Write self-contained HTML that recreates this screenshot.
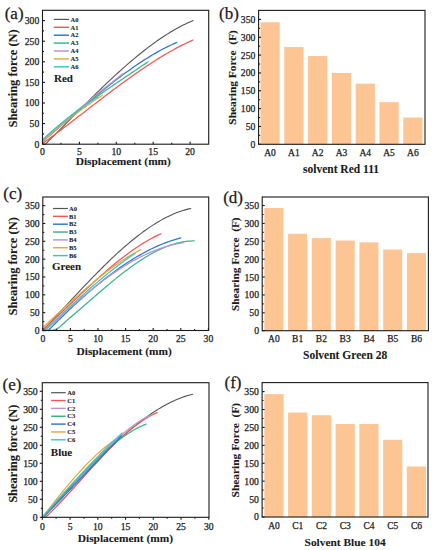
<!DOCTYPE html>
<html><head><meta charset="utf-8"><style>
html,body{margin:0;padding:0;background:#fff;width:433px;height:550px;overflow:hidden}
svg{display:block}
text{font-family:'Liberation Serif', serif;fill:#1a1a1a;stroke:#1a1a1a;stroke-width:0.25px}
text[font-weight=bold]{stroke-width:0.08px}
</style></head><body>
<svg width="433" height="550" viewBox="0 0 433 550">
<rect width="433" height="550" fill="#fff"/>
<path d="M45.45,144.19 L47.32,142.34 L49.19,140.47 L51.06,138.6 L52.93,136.73 L54.79,134.85 L56.66,132.98 L58.53,131.09 L60.4,129.21 L62.27,127.33 L64.14,125.44 L66,123.55 L67.87,121.67 L69.74,119.78 L71.61,117.9 L73.48,116.01 L75.35,114.13 L77.21,112.25 L79.08,110.37 L80.95,108.5 L82.82,106.63 L84.69,104.77 L86.56,102.91 L88.42,101.05 L90.29,99.2 L92.16,97.36 L94.03,95.52 L95.9,93.69 L97.77,91.87 L99.63,90.06 L101.5,88.25 L103.37,86.46 L105.24,84.67 L107.11,82.9 L108.98,81.13 L110.84,79.38 L112.71,77.64 L114.58,75.91 L116.45,74.19 L118.32,72.48 L120.19,70.79 L122.05,69.12 L123.92,67.45 L125.79,65.81 L127.66,64.18 L129.53,62.56 L131.4,60.96 L133.26,59.38 L135.13,57.81 L137,56.27 L138.87,54.74 L140.74,53.23 L142.61,51.74 L144.47,50.27 L146.34,48.82 L148.21,47.39 L150.08,45.98 L151.95,44.59 L153.82,43.23 L155.68,41.89 L157.55,40.57 L159.42,39.28 L161.29,38.01 L163.16,36.76 L165.03,35.54 L166.9,34.35 L168.76,33.18 L170.63,32.04 L172.5,30.92 L174.37,29.84 L176.24,28.78 L178.11,27.75 L179.97,26.75 L181.84,25.78 L183.71,24.83 L185.58,23.92 L187.45,23.04 L189.32,22.2 L191.18,21.38 L193.05,20.6" fill="none" stroke="#555555" stroke-width="1.1" stroke-linejoin="round" stroke-linecap="round"/>
<path d="M42.5,143.58 L44.41,142.2 L46.31,140.82 L48.22,139.43 L50.12,138.03 L52.03,136.62 L53.93,135.2 L55.84,133.78 L57.75,132.35 L59.65,130.92 L61.56,129.48 L63.46,128.04 L65.37,126.59 L67.27,125.14 L69.18,123.69 L71.09,122.23 L72.99,120.77 L74.9,119.31 L76.8,117.84 L78.71,116.37 L80.61,114.9 L82.52,113.43 L84.43,111.96 L86.33,110.49 L88.24,109.02 L90.14,107.55 L92.05,106.09 L93.95,104.62 L95.86,103.15 L97.77,101.69 L99.67,100.23 L101.58,98.77 L103.48,97.32 L105.39,95.87 L107.29,94.42 L109.2,92.98 L111.11,91.54 L113.01,90.11 L114.92,88.69 L116.82,87.27 L118.73,85.85 L120.63,84.45 L122.54,83.05 L124.45,81.66 L126.35,80.27 L128.26,78.9 L130.16,77.53 L132.07,76.18 L133.97,74.83 L135.88,73.49 L137.79,72.17 L139.69,70.85 L141.6,69.54 L143.5,68.25 L145.41,66.97 L147.31,65.7 L149.22,64.44 L151.13,63.2 L153.03,61.97 L154.94,60.76 L156.84,59.55 L158.75,58.37 L160.65,57.2 L162.56,56.04 L164.47,54.9 L166.37,53.78 L168.28,52.67 L170.18,51.58 L172.09,50.51 L173.99,49.45 L175.9,48.41 L177.81,47.39 L179.71,46.4 L181.62,45.42 L183.52,44.45 L185.43,43.51 L187.33,42.6 L189.24,41.7 L191.15,40.82 L193.05,39.96" fill="none" stroke="#f55454" stroke-width="1.25" stroke-linejoin="round" stroke-linecap="round"/>
<path d="M42.5,141.72 L44.2,140.27 L45.9,138.82 L47.6,137.36 L49.3,135.89 L51,134.43 L52.7,132.96 L54.4,131.5 L56.1,130.03 L57.8,128.56 L59.5,127.09 L61.2,125.61 L62.9,124.14 L64.6,122.67 L66.3,121.2 L68,119.73 L69.7,118.26 L71.4,116.8 L73.1,115.33 L74.8,113.87 L76.5,112.41 L78.2,110.95 L79.9,109.49 L81.6,108.04 L83.3,106.6 L85.01,105.15 L86.71,103.72 L88.41,102.28 L90.11,100.85 L91.81,99.43 L93.51,98.01 L95.21,96.6 L96.91,95.2 L98.61,93.8 L100.31,92.41 L102.01,91.03 L103.71,89.65 L105.41,88.28 L107.11,86.92 L108.81,85.57 L110.51,84.23 L112.21,82.9 L113.91,81.58 L115.61,80.27 L117.31,78.96 L119.01,77.67 L120.71,76.39 L122.41,75.12 L124.11,73.87 L125.81,72.62 L127.51,71.39 L129.21,70.17 L130.91,68.96 L132.61,67.76 L134.31,66.58 L136.01,65.42 L137.71,64.26 L139.41,63.13 L141.11,62 L142.81,60.89 L144.51,59.8 L146.21,58.73 L147.91,57.67 L149.61,56.62 L151.31,55.59 L153.01,54.58 L154.71,53.59 L156.41,52.62 L158.11,51.66 L159.81,50.72 L161.51,49.8 L163.21,48.9 L164.91,48.02 L166.61,47.16 L168.31,46.32 L170.02,45.5 L171.72,44.7 L173.42,43.92 L175.12,43.17 L176.82,42.43" fill="none" stroke="#2f78c8" stroke-width="1.25" stroke-linejoin="round" stroke-linecap="round"/>
<path d="M42.5,140.9 L43.84,139.64 L45.17,138.39 L46.51,137.16 L47.84,135.93 L49.18,134.71 L50.52,133.5 L51.85,132.31 L53.19,131.12 L54.52,129.94 L55.86,128.77 L57.19,127.62 L58.53,126.47 L59.87,125.33 L61.2,124.2 L62.54,123.07 L63.87,121.96 L65.21,120.85 L66.55,119.76 L67.88,118.67 L69.22,117.59 L70.55,116.51 L71.89,115.45 L73.23,114.39 L74.56,113.34 L75.9,112.3 L77.23,111.26 L78.57,110.23 L79.9,109.21 L81.24,108.19 L82.58,107.18 L83.91,106.17 L85.25,105.17 L86.58,104.18 L87.92,103.19 L89.26,102.21 L90.59,101.24 L91.93,100.26 L93.26,99.3 L94.6,98.33 L95.93,97.38 L97.27,96.42 L98.61,95.47 L99.94,94.53 L101.28,93.59 L102.61,92.65 L103.95,91.72 L105.29,90.79 L106.62,89.86 L107.96,88.94 L109.29,88.01 L110.63,87.1 L111.97,86.18 L113.3,85.27 L114.64,84.36 L115.97,83.45 L117.31,82.54 L118.64,81.63 L119.98,80.73 L121.32,79.83 L122.65,78.92 L123.99,78.02 L125.32,77.12 L126.66,76.23 L128,75.33 L129.33,74.43 L130.67,73.53 L132,72.63 L133.34,71.74 L134.68,70.84 L136.01,69.94 L137.35,69.04 L138.68,68.14 L140.02,67.24 L141.35,66.33 L142.69,65.43 L144.03,64.53 L145.36,63.62 L146.7,62.71 L148.03,61.8" fill="none" stroke="#38b684" stroke-width="1.25" stroke-linejoin="round" stroke-linecap="round"/>
<path d="M42.5,140.9 L43.52,139.99 L44.54,139.07 L45.55,138.16 L46.57,137.25 L47.59,136.34 L48.61,135.43 L49.63,134.52 L50.65,133.62 L51.66,132.71 L52.68,131.81 L53.7,130.91 L54.72,130.01 L55.74,129.12 L56.76,128.22 L57.77,127.33 L58.79,126.44 L59.81,125.55 L60.83,124.66 L61.85,123.77 L62.87,122.89 L63.88,122.01 L64.9,121.13 L65.92,120.25 L66.94,119.37 L67.96,118.49 L68.97,117.62 L69.99,116.75 L71.01,115.88 L72.03,115.01 L73.05,114.14 L74.07,113.27 L75.08,112.41 L76.1,111.55 L77.12,110.69 L78.14,109.83 L79.16,108.97 L80.18,108.12 L81.19,107.26 L82.21,106.41 L83.23,105.56 L84.25,104.71 L85.27,103.87 L86.28,103.02 L87.3,102.18 L88.32,101.34 L89.34,100.5 L90.36,99.66 L91.38,98.82 L92.39,97.99 L93.41,97.16 L94.43,96.32 L95.45,95.49 L96.47,94.67 L97.49,93.84 L98.5,93.02 L99.52,92.19 L100.54,91.37 L101.56,90.55 L102.58,89.74 L103.6,88.92 L104.61,88.11 L105.63,87.29 L106.65,86.48 L107.67,85.67 L108.69,84.87 L109.7,84.06 L110.72,83.26 L111.74,82.46 L112.76,81.66 L113.78,80.86 L114.8,80.06 L115.81,79.27 L116.83,78.47 L117.85,77.68 L118.87,76.89 L119.89,76.1 L120.91,75.32 L121.92,74.53 L122.94,73.75" fill="none" stroke="#b993d4" stroke-width="1.25" stroke-linejoin="round" stroke-linecap="round"/>
<path d="M42.5,141.52 L43.26,140.84 L44.01,140.17 L44.77,139.5 L45.53,138.82 L46.28,138.16 L47.04,137.49 L47.8,136.83 L48.55,136.17 L49.31,135.51 L50.07,134.85 L50.82,134.19 L51.58,133.54 L52.34,132.89 L53.09,132.25 L53.85,131.6 L54.61,130.96 L55.36,130.32 L56.12,129.68 L56.88,129.04 L57.63,128.41 L58.39,127.78 L59.15,127.15 L59.9,126.52 L60.66,125.9 L61.42,125.28 L62.17,124.66 L62.93,124.04 L63.69,123.43 L64.44,122.81 L65.2,122.2 L65.96,121.6 L66.71,120.99 L67.47,120.39 L68.23,119.79 L68.98,119.19 L69.74,118.59 L70.5,118 L71.25,117.41 L72.01,116.82 L72.77,116.23 L73.52,115.65 L74.28,115.07 L75.04,114.49 L75.79,113.91 L76.55,113.33 L77.31,112.76 L78.06,112.19 L78.82,111.62 L79.58,111.06 L80.33,110.49 L81.09,109.93 L81.85,109.37 L82.6,108.82 L83.36,108.26 L84.12,107.71 L84.87,107.16 L85.63,106.62 L86.39,106.07 L87.14,105.53 L87.9,104.99 L88.66,104.45 L89.41,103.92 L90.17,103.38 L90.93,102.85 L91.68,102.32 L92.44,101.8 L93.2,101.27 L93.95,100.75 L94.71,100.23 L95.47,99.72 L96.22,99.2 L96.98,98.69 L97.74,98.18 L98.49,97.67 L99.25,97.17 L100.01,96.67 L100.76,96.17 L101.52,95.67 L102.28,95.17" fill="none" stroke="#e3aa3c" stroke-width="1.25" stroke-linejoin="round" stroke-linecap="round"/>
<path d="M42.5,139.67 L43.2,139.02 L43.9,138.37 L44.6,137.73 L45.3,137.09 L46,136.45 L46.7,135.82 L47.4,135.19 L48.11,134.56 L48.81,133.93 L49.51,133.31 L50.21,132.69 L50.91,132.07 L51.61,131.45 L52.31,130.84 L53.01,130.23 L53.71,129.62 L54.41,129.02 L55.11,128.41 L55.81,127.82 L56.51,127.22 L57.21,126.62 L57.91,126.03 L58.61,125.44 L59.32,124.86 L60.02,124.28 L60.72,123.7 L61.42,123.12 L62.12,122.54 L62.82,121.97 L63.52,121.4 L64.22,120.83 L64.92,120.27 L65.62,119.71 L66.32,119.15 L67.02,118.59 L67.72,118.04 L68.42,117.49 L69.12,116.94 L69.82,116.4 L70.53,115.86 L71.23,115.32 L71.93,114.78 L72.63,114.24 L73.33,113.71 L74.03,113.18 L74.73,112.66 L75.43,112.13 L76.13,111.61 L76.83,111.1 L77.53,110.58 L78.23,110.07 L78.93,109.56 L79.63,109.05 L80.33,108.55 L81.03,108.05 L81.74,107.55 L82.44,107.05 L83.14,106.56 L83.84,106.07 L84.54,105.58 L85.24,105.09 L85.94,104.61 L86.64,104.13 L87.34,103.65 L88.04,103.18 L88.74,102.71 L89.44,102.24 L90.14,101.77 L90.84,101.31 L91.54,100.85 L92.24,100.39 L92.95,99.93 L93.65,99.48 L94.35,99.03 L95.05,98.58 L95.75,98.14 L96.45,97.7 L97.15,97.26 L97.85,96.82" fill="none" stroke="#36c6c8" stroke-width="1.25" stroke-linejoin="round" stroke-linecap="round"/>
<rect x="42.5" y="10.3" width="166.2" height="133.9" fill="none" stroke="#1a1a1a" stroke-width="1.1"/>
<line x1="42.5" y1="144.2" x2="45" y2="144.2" stroke="#1a1a1a" stroke-width="1.1"/>
<text x="39.3" y="147.69" font-size="9.7" text-anchor="end" >0</text>
<line x1="42.5" y1="133.9" x2="44" y2="133.9" stroke="#1a1a1a" stroke-width="1.1"/>
<line x1="42.5" y1="123.6" x2="45" y2="123.6" stroke="#1a1a1a" stroke-width="1.1"/>
<text x="39.3" y="127.09" font-size="9.7" text-anchor="end" >50</text>
<line x1="42.5" y1="113.3" x2="44" y2="113.3" stroke="#1a1a1a" stroke-width="1.1"/>
<line x1="42.5" y1="103" x2="45" y2="103" stroke="#1a1a1a" stroke-width="1.1"/>
<text x="39.3" y="106.49" font-size="9.7" text-anchor="end" >100</text>
<line x1="42.5" y1="92.7" x2="44" y2="92.7" stroke="#1a1a1a" stroke-width="1.1"/>
<line x1="42.5" y1="82.4" x2="45" y2="82.4" stroke="#1a1a1a" stroke-width="1.1"/>
<text x="39.3" y="85.89" font-size="9.7" text-anchor="end" >150</text>
<line x1="42.5" y1="72.1" x2="44" y2="72.1" stroke="#1a1a1a" stroke-width="1.1"/>
<line x1="42.5" y1="61.8" x2="45" y2="61.8" stroke="#1a1a1a" stroke-width="1.1"/>
<text x="39.3" y="65.29" font-size="9.7" text-anchor="end" >200</text>
<line x1="42.5" y1="51.5" x2="44" y2="51.5" stroke="#1a1a1a" stroke-width="1.1"/>
<line x1="42.5" y1="41.2" x2="45" y2="41.2" stroke="#1a1a1a" stroke-width="1.1"/>
<text x="39.3" y="44.69" font-size="9.7" text-anchor="end" >250</text>
<line x1="42.5" y1="30.9" x2="44" y2="30.9" stroke="#1a1a1a" stroke-width="1.1"/>
<line x1="42.5" y1="20.6" x2="45" y2="20.6" stroke="#1a1a1a" stroke-width="1.1"/>
<text x="39.3" y="24.09" font-size="9.7" text-anchor="end" >300</text>
<line x1="42.5" y1="144.2" x2="42.5" y2="141.7" stroke="#1a1a1a" stroke-width="1.1"/>
<text x="42.5" y="155.1" font-size="9.7" text-anchor="middle" >0</text>
<line x1="60.95" y1="144.2" x2="60.95" y2="142.7" stroke="#1a1a1a" stroke-width="1.1"/>
<line x1="79.4" y1="144.2" x2="79.4" y2="141.7" stroke="#1a1a1a" stroke-width="1.1"/>
<text x="79.4" y="155.1" font-size="9.7" text-anchor="middle" >5</text>
<line x1="97.85" y1="144.2" x2="97.85" y2="142.7" stroke="#1a1a1a" stroke-width="1.1"/>
<line x1="116.3" y1="144.2" x2="116.3" y2="141.7" stroke="#1a1a1a" stroke-width="1.1"/>
<text x="116.3" y="155.1" font-size="9.7" text-anchor="middle" >10</text>
<line x1="134.75" y1="144.2" x2="134.75" y2="142.7" stroke="#1a1a1a" stroke-width="1.1"/>
<line x1="153.2" y1="144.2" x2="153.2" y2="141.7" stroke="#1a1a1a" stroke-width="1.1"/>
<text x="153.2" y="155.1" font-size="9.7" text-anchor="middle" >15</text>
<line x1="171.65" y1="144.2" x2="171.65" y2="142.7" stroke="#1a1a1a" stroke-width="1.1"/>
<line x1="190.1" y1="144.2" x2="190.1" y2="141.7" stroke="#1a1a1a" stroke-width="1.1"/>
<text x="190.1" y="155.1" font-size="9.7" text-anchor="middle" >20</text>
<line x1="53.8" y1="19.4" x2="69" y2="19.4" stroke="#555555" stroke-width="1.2"/>
<text x="70.5" y="21.61" font-size="6.5" text-anchor="start" font-weight="bold" >A0</text>
<line x1="53.8" y1="27.3" x2="69" y2="27.3" stroke="#f55454" stroke-width="1.45"/>
<text x="70.5" y="29.51" font-size="6.5" text-anchor="start" font-weight="bold" >A1</text>
<line x1="53.8" y1="35.2" x2="69" y2="35.2" stroke="#2f78c8" stroke-width="1.45"/>
<text x="70.5" y="37.41" font-size="6.5" text-anchor="start" font-weight="bold" >A2</text>
<line x1="53.8" y1="43.1" x2="69" y2="43.1" stroke="#38b684" stroke-width="1.45"/>
<text x="70.5" y="45.31" font-size="6.5" text-anchor="start" font-weight="bold" >A3</text>
<line x1="53.8" y1="51" x2="69" y2="51" stroke="#b993d4" stroke-width="1.45"/>
<text x="70.5" y="53.21" font-size="6.5" text-anchor="start" font-weight="bold" >A4</text>
<line x1="53.8" y1="58.9" x2="69" y2="58.9" stroke="#e3aa3c" stroke-width="1.45"/>
<text x="70.5" y="61.11" font-size="6.5" text-anchor="start" font-weight="bold" >A5</text>
<line x1="53.8" y1="66.8" x2="69" y2="66.8" stroke="#36c6c8" stroke-width="1.45"/>
<text x="70.5" y="69.01" font-size="6.5" text-anchor="start" font-weight="bold" >A6</text>
<text x="54" y="81.7" font-size="11" text-anchor="start" font-weight="bold" >Red</text>
<text x="0" y="0" font-size="12.5" font-weight="bold" text-anchor="middle" transform="translate(17.2,78.4) rotate(-90)">Shearing force (N)</text>
<text x="123.3" y="165" font-size="11.4" text-anchor="middle" font-weight="bold" >Displacement (mm)</text>
<text x="4.7" y="19" font-size="17" text-anchor="start" >(a)</text>
<rect x="260.45" y="22.27" width="19.2" height="122.03" fill="#fec594"/>
<rect x="284.25" y="47.07" width="19.2" height="97.23" fill="#fec594"/>
<rect x="308.05" y="55.99" width="19.2" height="88.31" fill="#fec594"/>
<rect x="331.85" y="72.94" width="19.2" height="71.36" fill="#fec594"/>
<rect x="355.65" y="83.64" width="19.2" height="60.66" fill="#fec594"/>
<rect x="379.45" y="102.2" width="19.2" height="42.1" fill="#fec594"/>
<rect x="403.25" y="117.54" width="19.2" height="26.76" fill="#fec594"/>
<text x="270.05" y="156" font-size="9.5" text-anchor="middle" >A0</text>
<text x="293.85" y="156" font-size="9.5" text-anchor="middle" >A1</text>
<text x="317.65" y="156" font-size="9.5" text-anchor="middle" >A2</text>
<text x="341.45" y="156" font-size="9.5" text-anchor="middle" >A3</text>
<text x="365.25" y="156" font-size="9.5" text-anchor="middle" >A4</text>
<text x="389.05" y="156" font-size="9.5" text-anchor="middle" >A5</text>
<text x="412.85" y="156" font-size="9.5" text-anchor="middle" >A6</text>
<rect x="258.6" y="10.4" width="166.4" height="133.9" fill="none" stroke="#1a1a1a" stroke-width="1.1"/>
<line x1="258.6" y1="144.3" x2="261.1" y2="144.3" stroke="#1a1a1a" stroke-width="1.1"/>
<text x="255.4" y="147.79" font-size="9.7" text-anchor="end" >0</text>
<line x1="258.6" y1="135.38" x2="260.1" y2="135.38" stroke="#1a1a1a" stroke-width="1.1"/>
<line x1="258.6" y1="126.46" x2="261.1" y2="126.46" stroke="#1a1a1a" stroke-width="1.1"/>
<text x="255.4" y="129.95" font-size="9.7" text-anchor="end" >50</text>
<line x1="258.6" y1="117.54" x2="260.1" y2="117.54" stroke="#1a1a1a" stroke-width="1.1"/>
<line x1="258.6" y1="108.62" x2="261.1" y2="108.62" stroke="#1a1a1a" stroke-width="1.1"/>
<text x="255.4" y="112.11" font-size="9.7" text-anchor="end" >100</text>
<line x1="258.6" y1="99.7" x2="260.1" y2="99.7" stroke="#1a1a1a" stroke-width="1.1"/>
<line x1="258.6" y1="90.78" x2="261.1" y2="90.78" stroke="#1a1a1a" stroke-width="1.1"/>
<text x="255.4" y="94.27" font-size="9.7" text-anchor="end" >150</text>
<line x1="258.6" y1="81.86" x2="260.1" y2="81.86" stroke="#1a1a1a" stroke-width="1.1"/>
<line x1="258.6" y1="72.94" x2="261.1" y2="72.94" stroke="#1a1a1a" stroke-width="1.1"/>
<text x="255.4" y="76.43" font-size="9.7" text-anchor="end" >200</text>
<line x1="258.6" y1="64.02" x2="260.1" y2="64.02" stroke="#1a1a1a" stroke-width="1.1"/>
<line x1="258.6" y1="55.1" x2="261.1" y2="55.1" stroke="#1a1a1a" stroke-width="1.1"/>
<text x="255.4" y="58.59" font-size="9.7" text-anchor="end" >250</text>
<line x1="258.6" y1="46.18" x2="260.1" y2="46.18" stroke="#1a1a1a" stroke-width="1.1"/>
<line x1="258.6" y1="37.26" x2="261.1" y2="37.26" stroke="#1a1a1a" stroke-width="1.1"/>
<text x="255.4" y="40.75" font-size="9.7" text-anchor="end" >300</text>
<line x1="258.6" y1="28.34" x2="260.1" y2="28.34" stroke="#1a1a1a" stroke-width="1.1"/>
<line x1="258.6" y1="19.42" x2="261.1" y2="19.42" stroke="#1a1a1a" stroke-width="1.1"/>
<text x="255.4" y="22.91" font-size="9.7" text-anchor="end" >350</text>
<text x="0" y="0" font-size="11.4" font-weight="bold" text-anchor="middle" transform="translate(235.9,77.5) rotate(-90)">Shearing Force&#160;&#160;(F)</text>
<text x="341" y="172.5" font-size="11.5" text-anchor="middle" font-weight="bold" >solvent Red 111</text>
<text x="219" y="19.2" font-size="17" text-anchor="start" >(b)</text>
<path d="M42.8,330.51 L44.67,328.53 L46.55,326.54 L48.42,324.54 L50.29,322.54 L52.16,320.53 L54.04,318.52 L55.91,316.51 L57.78,314.49 L59.65,312.48 L61.53,310.46 L63.4,308.44 L65.27,306.43 L67.14,304.41 L69.02,302.4 L70.89,300.38 L72.76,298.38 L74.63,296.37 L76.51,294.37 L78.38,292.38 L80.25,290.39 L82.12,288.41 L84,286.44 L85.87,284.47 L87.74,282.52 L89.62,280.57 L91.49,278.63 L93.36,276.7 L95.23,274.79 L97.11,272.89 L98.98,271 L100.85,269.12 L102.72,267.26 L104.6,265.41 L106.47,263.58 L108.34,261.77 L110.21,259.97 L112.09,258.19 L113.96,256.43 L115.83,254.68 L117.7,252.96 L119.58,251.26 L121.45,249.58 L123.32,247.92 L125.19,246.28 L127.07,244.67 L128.94,243.08 L130.81,241.51 L132.69,239.97 L134.56,238.45 L136.43,236.97 L138.3,235.51 L140.18,234.07 L142.05,232.67 L143.92,231.3 L145.79,229.95 L147.67,228.64 L149.54,227.36 L151.41,226.11 L153.28,224.89 L155.16,223.7 L157.03,222.55 L158.9,221.44 L160.77,220.36 L162.65,219.32 L164.52,218.31 L166.39,217.34 L168.26,216.41 L170.14,215.52 L172.01,214.67 L173.88,213.86 L175.76,213.09 L177.63,212.36 L179.5,211.67 L181.37,211.03 L183.25,210.43 L185.12,209.87 L186.99,209.36 L188.86,208.9 L190.74,208.48" fill="none" stroke="#555555" stroke-width="1.1" stroke-linejoin="round" stroke-linecap="round"/>
<path d="M42.8,329.79 L44.3,328.43 L45.79,327.07 L47.29,325.69 L48.78,324.32 L50.28,322.94 L51.77,321.55 L53.27,320.16 L54.76,318.76 L56.26,317.36 L57.75,315.96 L59.25,314.55 L60.74,313.14 L62.24,311.73 L63.73,310.31 L65.23,308.9 L66.72,307.48 L68.22,306.07 L69.72,304.65 L71.21,303.23 L72.71,301.82 L74.2,300.4 L75.7,298.99 L77.19,297.58 L78.69,296.17 L80.18,294.76 L81.68,293.36 L83.17,291.96 L84.67,290.56 L86.16,289.17 L87.66,287.78 L89.15,286.39 L90.65,285.02 L92.14,283.65 L93.64,282.28 L95.14,280.92 L96.63,279.57 L98.13,278.22 L99.62,276.89 L101.12,275.56 L102.61,274.24 L104.11,272.93 L105.6,271.63 L107.1,270.34 L108.59,269.06 L110.09,267.79 L111.58,266.53 L113.08,265.28 L114.57,264.04 L116.07,262.82 L117.56,261.61 L119.06,260.41 L120.56,259.23 L122.05,258.05 L123.55,256.9 L125.04,255.76 L126.54,254.63 L128.03,253.52 L129.53,252.42 L131.02,251.34 L132.52,250.28 L134.01,249.24 L135.51,248.21 L137,247.2 L138.5,246.21 L139.99,245.24 L141.49,244.28 L142.98,243.35 L144.48,242.44 L145.98,241.54 L147.47,240.67 L148.97,239.82 L150.46,238.99 L151.96,238.18 L153.45,237.39 L154.95,236.63 L156.44,235.89 L157.94,235.17 L159.43,234.48 L160.93,233.81" fill="none" stroke="#f55454" stroke-width="1.25" stroke-linejoin="round" stroke-linecap="round"/>
<path d="M48.32,330.5 L50,328.79 L51.67,327.1 L53.35,325.41 L55.03,323.73 L56.7,322.06 L58.38,320.4 L60.06,318.75 L61.74,317.11 L63.41,315.48 L65.09,313.85 L66.77,312.24 L68.44,310.64 L70.12,309.05 L71.8,307.47 L73.47,305.91 L75.15,304.35 L76.83,302.81 L78.51,301.27 L80.18,299.75 L81.86,298.24 L83.54,296.75 L85.21,295.26 L86.89,293.79 L88.57,292.33 L90.24,290.89 L91.92,289.46 L93.6,288.04 L95.27,286.63 L96.95,285.24 L98.63,283.87 L100.31,282.5 L101.98,281.16 L103.66,279.82 L105.34,278.5 L107.01,277.2 L108.69,275.91 L110.37,274.64 L112.04,273.39 L113.72,272.15 L115.4,270.92 L117.08,269.71 L118.75,268.52 L120.43,267.35 L122.11,266.19 L123.78,265.05 L125.46,263.93 L127.14,262.82 L128.81,261.74 L130.49,260.67 L132.17,259.61 L133.85,258.58 L135.52,257.57 L137.2,256.57 L138.88,255.59 L140.55,254.64 L142.23,253.7 L143.91,252.78 L145.58,251.88 L147.26,251 L148.94,250.14 L150.61,249.3 L152.29,248.48 L153.97,247.68 L155.65,246.91 L157.32,246.15 L159,245.42 L160.68,244.71 L162.35,244.02 L164.03,243.35 L165.71,242.7 L167.38,242.07 L169.06,241.47 L170.74,240.89 L172.42,240.34 L174.09,239.8 L175.77,239.29 L177.45,238.81 L179.12,238.35 L180.8,237.91" fill="none" stroke="#2f78c8" stroke-width="1.25" stroke-linejoin="round" stroke-linecap="round"/>
<path d="M42.8,330.5 L44.71,330.5 L46.63,330.48 L48.54,330.46 L50.46,330.43 L52.37,330.38 L54.29,329.97 L56.2,329.17 L58.12,328.16 L60.03,326.65 L61.95,324.94 L63.86,323.25 L65.77,321.45 L67.69,319.65 L69.6,318.05 L71.52,316.43 L73.43,314.81 L75.35,313.18 L77.26,311.54 L79.18,309.9 L81.09,308.25 L83.01,306.59 L84.92,304.93 L86.83,303.27 L88.75,301.61 L90.66,299.95 L92.58,298.3 L94.49,296.64 L96.41,294.99 L98.32,293.34 L100.24,291.7 L102.15,290.06 L104.07,288.43 L105.98,286.81 L107.89,285.21 L109.81,283.61 L111.72,282.02 L113.64,280.45 L115.55,278.89 L117.47,277.35 L119.38,275.83 L121.3,274.32 L123.21,272.83 L125.12,271.36 L127.04,269.91 L128.95,268.49 L130.87,267.09 L132.78,265.71 L134.7,264.35 L136.61,263.03 L138.53,261.73 L140.44,260.46 L142.36,259.22 L144.27,258.01 L146.18,256.83 L148.1,255.68 L150.01,254.57 L151.93,253.5 L153.84,252.46 L155.76,251.46 L157.67,250.49 L159.59,249.57 L161.5,248.68 L163.42,247.84 L165.33,247.04 L167.24,246.29 L169.16,245.58 L171.07,244.91 L172.99,244.3 L174.9,243.73 L176.82,243.21 L178.73,242.74 L180.65,242.32 L182.56,241.96 L184.48,241.65 L186.39,241.39 L188.3,241.19 L190.22,241.05 L192.13,240.96 L194.05,240.93" fill="none" stroke="#38b684" stroke-width="1.25" stroke-linejoin="round" stroke-linecap="round"/>
<path d="M45.56,330.5 L47.31,328.83 L49.05,327.17 L50.8,325.52 L52.55,323.87 L54.29,322.23 L56.04,320.6 L57.79,318.97 L59.53,317.36 L61.28,315.75 L63.03,314.16 L64.78,312.57 L66.52,310.99 L68.27,309.42 L70.02,307.86 L71.76,306.31 L73.51,304.78 L75.26,303.25 L77,301.74 L78.75,300.23 L80.5,298.74 L82.24,297.26 L83.99,295.8 L85.74,294.34 L87.48,292.9 L89.23,291.48 L90.98,290.06 L92.72,288.66 L94.47,287.28 L96.22,285.91 L97.97,284.56 L99.71,283.22 L101.46,281.89 L103.21,280.58 L104.95,279.29 L106.7,278.02 L108.45,276.76 L110.19,275.52 L111.94,274.29 L113.69,273.09 L115.43,271.9 L117.18,270.73 L118.93,269.57 L120.67,268.44 L122.42,267.33 L124.17,266.23 L125.91,265.16 L127.66,264.1 L129.41,263.07 L131.15,262.05 L132.9,261.06 L134.65,260.09 L136.4,259.14 L138.14,258.21 L139.89,257.31 L141.64,256.42 L143.38,255.56 L145.13,254.72 L146.88,253.91 L148.62,253.12 L150.37,252.35 L152.12,251.61 L153.86,250.89 L155.61,250.2 L157.36,249.53 L159.1,248.89 L160.85,248.27 L162.6,247.68 L164.34,247.11 L166.09,246.58 L167.84,246.07 L169.59,245.58 L171.33,245.13 L173.08,244.7 L174.83,244.3 L176.57,243.92 L178.32,243.58 L180.07,243.27 L181.81,242.98 L183.56,242.73" fill="none" stroke="#b993d4" stroke-width="1.25" stroke-linejoin="round" stroke-linecap="round"/>
<path d="M42.8,327.4 L44.04,326.27 L45.27,325.14 L46.51,324.01 L47.75,322.87 L48.98,321.74 L50.22,320.61 L51.46,319.47 L52.69,318.34 L53.93,317.21 L55.17,316.07 L56.4,314.94 L57.64,313.81 L58.88,312.68 L60.11,311.55 L61.35,310.42 L62.59,309.29 L63.82,308.17 L65.06,307.04 L66.3,305.92 L67.54,304.8 L68.77,303.69 L70.01,302.57 L71.25,301.46 L72.48,300.35 L73.72,299.25 L74.96,298.14 L76.19,297.05 L77.43,295.95 L78.67,294.86 L79.9,293.78 L81.14,292.7 L82.38,291.62 L83.61,290.55 L84.85,289.48 L86.09,288.42 L87.32,287.36 L88.56,286.31 L89.8,285.27 L91.03,284.23 L92.27,283.19 L93.51,282.17 L94.74,281.15 L95.98,280.14 L97.22,279.13 L98.45,278.13 L99.69,277.14 L100.93,276.16 L102.16,275.18 L103.4,274.21 L104.64,273.25 L105.87,272.3 L107.11,271.36 L108.35,270.42 L109.59,269.5 L110.82,268.58 L112.06,267.68 L113.3,266.78 L114.53,265.89 L115.77,265.01 L117.01,264.15 L118.24,263.29 L119.48,262.44 L120.72,261.61 L121.95,260.78 L123.19,259.97 L124.43,259.17 L125.66,258.37 L126.9,257.6 L128.14,256.83 L129.37,256.07 L130.61,255.33 L131.85,254.6 L133.08,253.88 L134.32,253.18 L135.56,252.49 L136.79,251.81 L138.03,251.14 L139.27,250.49 L140.5,249.85" fill="none" stroke="#e3aa3c" stroke-width="1.25" stroke-linejoin="round" stroke-linecap="round"/>
<path d="M44.46,330.5 L45.6,329.42 L46.75,328.35 L47.89,327.27 L49.04,326.2 L50.19,325.12 L51.33,324.04 L52.48,322.97 L53.62,321.89 L54.77,320.82 L55.92,319.74 L57.06,318.67 L58.21,317.59 L59.35,316.52 L60.5,315.45 L61.64,314.38 L62.79,313.31 L63.94,312.24 L65.08,311.18 L66.23,310.11 L67.37,309.05 L68.52,307.99 L69.67,306.93 L70.81,305.87 L71.96,304.81 L73.1,303.76 L74.25,302.71 L75.4,301.66 L76.54,300.62 L77.69,299.57 L78.83,298.53 L79.98,297.5 L81.13,296.46 L82.27,295.43 L83.42,294.41 L84.56,293.38 L85.71,292.36 L86.86,291.34 L88,290.33 L89.15,289.32 L90.29,288.32 L91.44,287.32 L92.58,286.32 L93.73,285.33 L94.88,284.34 L96.02,283.35 L97.17,282.38 L98.31,281.4 L99.46,280.43 L100.61,279.47 L101.75,278.51 L102.9,277.55 L104.04,276.61 L105.19,275.66 L106.34,274.72 L107.48,273.79 L108.63,272.87 L109.77,271.95 L110.92,271.03 L112.07,270.12 L113.21,269.22 L114.36,268.33 L115.5,267.44 L116.65,266.56 L117.8,265.68 L118.94,264.81 L120.09,263.95 L121.23,263.1 L122.38,262.25 L123.52,261.41 L124.67,260.57 L125.82,259.75 L126.96,258.93 L128.11,258.12 L129.25,257.32 L130.4,256.53 L131.55,255.74 L132.69,254.96 L133.84,254.19 L134.98,253.43" fill="none" stroke="#36c6c8" stroke-width="1.25" stroke-linejoin="round" stroke-linecap="round"/>
<rect x="42.8" y="197" width="165.9" height="133.5" fill="none" stroke="#1a1a1a" stroke-width="1.1"/>
<line x1="42.8" y1="330.5" x2="45.3" y2="330.5" stroke="#1a1a1a" stroke-width="1.1"/>
<text x="39.6" y="333.99" font-size="9.7" text-anchor="end" >0</text>
<line x1="42.8" y1="321.58" x2="44.3" y2="321.58" stroke="#1a1a1a" stroke-width="1.1"/>
<line x1="42.8" y1="312.66" x2="45.3" y2="312.66" stroke="#1a1a1a" stroke-width="1.1"/>
<text x="39.6" y="316.15" font-size="9.7" text-anchor="end" >50</text>
<line x1="42.8" y1="303.74" x2="44.3" y2="303.74" stroke="#1a1a1a" stroke-width="1.1"/>
<line x1="42.8" y1="294.82" x2="45.3" y2="294.82" stroke="#1a1a1a" stroke-width="1.1"/>
<text x="39.6" y="298.31" font-size="9.7" text-anchor="end" >100</text>
<line x1="42.8" y1="285.9" x2="44.3" y2="285.9" stroke="#1a1a1a" stroke-width="1.1"/>
<line x1="42.8" y1="276.98" x2="45.3" y2="276.98" stroke="#1a1a1a" stroke-width="1.1"/>
<text x="39.6" y="280.47" font-size="9.7" text-anchor="end" >150</text>
<line x1="42.8" y1="268.06" x2="44.3" y2="268.06" stroke="#1a1a1a" stroke-width="1.1"/>
<line x1="42.8" y1="259.14" x2="45.3" y2="259.14" stroke="#1a1a1a" stroke-width="1.1"/>
<text x="39.6" y="262.63" font-size="9.7" text-anchor="end" >200</text>
<line x1="42.8" y1="250.22" x2="44.3" y2="250.22" stroke="#1a1a1a" stroke-width="1.1"/>
<line x1="42.8" y1="241.3" x2="45.3" y2="241.3" stroke="#1a1a1a" stroke-width="1.1"/>
<text x="39.6" y="244.79" font-size="9.7" text-anchor="end" >250</text>
<line x1="42.8" y1="232.38" x2="44.3" y2="232.38" stroke="#1a1a1a" stroke-width="1.1"/>
<line x1="42.8" y1="223.46" x2="45.3" y2="223.46" stroke="#1a1a1a" stroke-width="1.1"/>
<text x="39.6" y="226.95" font-size="9.7" text-anchor="end" >300</text>
<line x1="42.8" y1="214.54" x2="44.3" y2="214.54" stroke="#1a1a1a" stroke-width="1.1"/>
<line x1="42.8" y1="205.62" x2="45.3" y2="205.62" stroke="#1a1a1a" stroke-width="1.1"/>
<text x="39.6" y="209.11" font-size="9.7" text-anchor="end" >350</text>
<line x1="42.8" y1="330.5" x2="42.8" y2="328" stroke="#1a1a1a" stroke-width="1.1"/>
<text x="42.8" y="342.2" font-size="9.7" text-anchor="middle" >0</text>
<line x1="56.6" y1="330.5" x2="56.6" y2="329" stroke="#1a1a1a" stroke-width="1.1"/>
<line x1="70.4" y1="330.5" x2="70.4" y2="328" stroke="#1a1a1a" stroke-width="1.1"/>
<text x="70.4" y="342.2" font-size="9.7" text-anchor="middle" >5</text>
<line x1="84.2" y1="330.5" x2="84.2" y2="329" stroke="#1a1a1a" stroke-width="1.1"/>
<line x1="98" y1="330.5" x2="98" y2="328" stroke="#1a1a1a" stroke-width="1.1"/>
<text x="98" y="342.2" font-size="9.7" text-anchor="middle" >10</text>
<line x1="111.8" y1="330.5" x2="111.8" y2="329" stroke="#1a1a1a" stroke-width="1.1"/>
<line x1="125.6" y1="330.5" x2="125.6" y2="328" stroke="#1a1a1a" stroke-width="1.1"/>
<text x="125.6" y="342.2" font-size="9.7" text-anchor="middle" >15</text>
<line x1="139.4" y1="330.5" x2="139.4" y2="329" stroke="#1a1a1a" stroke-width="1.1"/>
<line x1="153.2" y1="330.5" x2="153.2" y2="328" stroke="#1a1a1a" stroke-width="1.1"/>
<text x="153.2" y="342.2" font-size="9.7" text-anchor="middle" >20</text>
<line x1="167" y1="330.5" x2="167" y2="329" stroke="#1a1a1a" stroke-width="1.1"/>
<line x1="180.8" y1="330.5" x2="180.8" y2="328" stroke="#1a1a1a" stroke-width="1.1"/>
<text x="180.8" y="342.2" font-size="9.7" text-anchor="middle" >25</text>
<line x1="194.6" y1="330.5" x2="194.6" y2="329" stroke="#1a1a1a" stroke-width="1.1"/>
<line x1="208.4" y1="330.5" x2="208.4" y2="328" stroke="#1a1a1a" stroke-width="1.1"/>
<text x="208.4" y="342.2" font-size="9.7" text-anchor="middle" >30</text>
<line x1="53" y1="208.5" x2="67.9" y2="208.5" stroke="#555555" stroke-width="1.2"/>
<text x="69" y="210.71" font-size="6.5" text-anchor="start" font-weight="bold" >A0</text>
<line x1="53" y1="216.35" x2="67.9" y2="216.35" stroke="#f55454" stroke-width="1.45"/>
<text x="69" y="218.56" font-size="6.5" text-anchor="start" font-weight="bold" >B1</text>
<line x1="53" y1="224.2" x2="67.9" y2="224.2" stroke="#2f78c8" stroke-width="1.45"/>
<text x="69" y="226.41" font-size="6.5" text-anchor="start" font-weight="bold" >B2</text>
<line x1="53" y1="232.05" x2="67.9" y2="232.05" stroke="#38b684" stroke-width="1.45"/>
<text x="69" y="234.26" font-size="6.5" text-anchor="start" font-weight="bold" >B3</text>
<line x1="53" y1="239.9" x2="67.9" y2="239.9" stroke="#b993d4" stroke-width="1.45"/>
<text x="69" y="242.11" font-size="6.5" text-anchor="start" font-weight="bold" >B4</text>
<line x1="53" y1="247.75" x2="67.9" y2="247.75" stroke="#e3aa3c" stroke-width="1.45"/>
<text x="69" y="249.96" font-size="6.5" text-anchor="start" font-weight="bold" >B5</text>
<line x1="53" y1="255.6" x2="67.9" y2="255.6" stroke="#36c6c8" stroke-width="1.45"/>
<text x="69" y="257.81" font-size="6.5" text-anchor="start" font-weight="bold" >B6</text>
<text x="52" y="270" font-size="11" text-anchor="start" font-weight="bold" >Green</text>
<text x="0" y="0" font-size="12.5" font-weight="bold" text-anchor="middle" transform="translate(17,266.3) rotate(-90)">Shearing force (N)</text>
<text x="124.1" y="355" font-size="11.4" text-anchor="middle" font-weight="bold" >Displacement (mm)</text>
<text x="3.3" y="199.3" font-size="17" text-anchor="start" >(c)</text>
<rect x="264.35" y="208.01" width="19" height="122.69" fill="#fec594"/>
<rect x="288.12" y="233.76" width="19" height="96.94" fill="#fec594"/>
<rect x="311.89" y="238.06" width="19" height="92.64" fill="#fec594"/>
<rect x="335.66" y="240.56" width="19" height="90.14" fill="#fec594"/>
<rect x="359.43" y="242.35" width="19" height="88.35" fill="#fec594"/>
<rect x="383.2" y="249.5" width="19" height="81.2" fill="#fec594"/>
<rect x="406.97" y="253.08" width="19" height="77.62" fill="#fec594"/>
<text x="273.85" y="342.4" font-size="9.5" text-anchor="middle" >A0</text>
<text x="297.62" y="342.4" font-size="9.5" text-anchor="middle" >B1</text>
<text x="321.39" y="342.4" font-size="9.5" text-anchor="middle" >B2</text>
<text x="345.16" y="342.4" font-size="9.5" text-anchor="middle" >B3</text>
<text x="368.93" y="342.4" font-size="9.5" text-anchor="middle" >B4</text>
<text x="392.7" y="342.4" font-size="9.5" text-anchor="middle" >B5</text>
<text x="416.47" y="342.4" font-size="9.5" text-anchor="middle" >B6</text>
<rect x="262.2" y="197" width="166.2" height="133.7" fill="none" stroke="#1a1a1a" stroke-width="1.1"/>
<line x1="262.2" y1="330.7" x2="264.7" y2="330.7" stroke="#1a1a1a" stroke-width="1.1"/>
<text x="259" y="334.19" font-size="9.7" text-anchor="end" >0</text>
<line x1="262.2" y1="321.76" x2="263.7" y2="321.76" stroke="#1a1a1a" stroke-width="1.1"/>
<line x1="262.2" y1="312.81" x2="264.7" y2="312.81" stroke="#1a1a1a" stroke-width="1.1"/>
<text x="259" y="316.31" font-size="9.7" text-anchor="end" >50</text>
<line x1="262.2" y1="303.87" x2="263.7" y2="303.87" stroke="#1a1a1a" stroke-width="1.1"/>
<line x1="262.2" y1="294.93" x2="264.7" y2="294.93" stroke="#1a1a1a" stroke-width="1.1"/>
<text x="259" y="298.42" font-size="9.7" text-anchor="end" >100</text>
<line x1="262.2" y1="285.99" x2="263.7" y2="285.99" stroke="#1a1a1a" stroke-width="1.1"/>
<line x1="262.2" y1="277.04" x2="264.7" y2="277.04" stroke="#1a1a1a" stroke-width="1.1"/>
<text x="259" y="280.54" font-size="9.7" text-anchor="end" >150</text>
<line x1="262.2" y1="268.1" x2="263.7" y2="268.1" stroke="#1a1a1a" stroke-width="1.1"/>
<line x1="262.2" y1="259.16" x2="264.7" y2="259.16" stroke="#1a1a1a" stroke-width="1.1"/>
<text x="259" y="262.65" font-size="9.7" text-anchor="end" >200</text>
<line x1="262.2" y1="250.22" x2="263.7" y2="250.22" stroke="#1a1a1a" stroke-width="1.1"/>
<line x1="262.2" y1="241.27" x2="264.7" y2="241.27" stroke="#1a1a1a" stroke-width="1.1"/>
<text x="259" y="244.77" font-size="9.7" text-anchor="end" >250</text>
<line x1="262.2" y1="232.33" x2="263.7" y2="232.33" stroke="#1a1a1a" stroke-width="1.1"/>
<line x1="262.2" y1="223.39" x2="264.7" y2="223.39" stroke="#1a1a1a" stroke-width="1.1"/>
<text x="259" y="226.88" font-size="9.7" text-anchor="end" >300</text>
<line x1="262.2" y1="214.45" x2="263.7" y2="214.45" stroke="#1a1a1a" stroke-width="1.1"/>
<line x1="262.2" y1="205.5" x2="264.7" y2="205.5" stroke="#1a1a1a" stroke-width="1.1"/>
<text x="259" y="209" font-size="9.7" text-anchor="end" >350</text>
<text x="0" y="0" font-size="11.3" font-weight="bold" text-anchor="middle" transform="translate(239.4,264.2) rotate(-90)">Shearing Force&#160;&#160;(F)</text>
<text x="345.1" y="359" font-size="11.5" text-anchor="middle" font-weight="bold" >Solvent Green 28</text>
<text x="223.2" y="203" font-size="17" text-anchor="start" >(d)</text>
<path d="M42.3,517.31 L44.2,515.35 L46.11,513.38 L48.01,511.4 L49.92,509.42 L51.82,507.43 L53.72,505.44 L55.63,503.44 L57.53,501.45 L59.43,499.44 L61.34,497.44 L63.24,495.44 L65.15,493.44 L67.05,491.43 L68.95,489.43 L70.86,487.43 L72.76,485.43 L74.67,483.44 L76.57,481.45 L78.47,479.46 L80.38,477.48 L82.28,475.51 L84.18,473.54 L86.09,471.58 L87.99,469.63 L89.9,467.68 L91.8,465.75 L93.7,463.82 L95.61,461.91 L97.51,460 L99.42,458.11 L101.32,456.23 L103.22,454.37 L105.13,452.52 L107.03,450.68 L108.94,448.86 L110.84,447.05 L112.74,445.26 L114.65,443.49 L116.55,441.74 L118.45,440.01 L120.36,438.29 L122.26,436.6 L124.17,434.92 L126.07,433.27 L127.97,431.64 L129.88,430.03 L131.78,428.45 L133.69,426.89 L135.59,425.35 L137.49,423.84 L139.4,422.36 L141.3,420.9 L143.2,419.47 L145.11,418.07 L147.01,416.7 L148.92,415.36 L150.82,414.04 L152.72,412.76 L154.63,411.51 L156.53,410.3 L158.44,409.11 L160.34,407.96 L162.24,406.84 L164.15,405.76 L166.05,404.72 L167.95,403.71 L169.86,402.74 L171.76,401.8 L173.67,400.9 L175.57,400.05 L177.47,399.23 L179.38,398.45 L181.28,397.72 L183.19,397.02 L185.09,396.37 L186.99,395.76 L188.9,395.19 L190.8,394.67 L192.7,394.2" fill="none" stroke="#555555" stroke-width="1.1" stroke-linejoin="round" stroke-linecap="round"/>
<path d="M45.63,517.3 L47.04,515.94 L48.45,514.56 L49.87,513.17 L51.28,511.76 L52.69,510.34 L54.1,508.9 L55.51,507.45 L56.93,505.99 L58.34,504.52 L59.75,503.03 L61.16,501.54 L62.58,500.03 L63.99,498.52 L65.4,497 L66.81,495.47 L68.22,493.93 L69.64,492.39 L71.05,490.84 L72.46,489.29 L73.87,487.73 L75.28,486.17 L76.7,484.6 L78.11,483.04 L79.52,481.47 L80.93,479.9 L82.34,478.33 L83.76,476.76 L85.17,475.2 L86.58,473.63 L87.99,472.07 L89.4,470.51 L90.82,468.95 L92.23,467.4 L93.64,465.85 L95.05,464.31 L96.47,462.78 L97.88,461.25 L99.29,459.73 L100.7,458.22 L102.11,456.72 L103.53,455.23 L104.94,453.75 L106.35,452.28 L107.76,450.82 L109.17,449.38 L110.59,447.94 L112,446.53 L113.41,445.12 L114.82,443.74 L116.23,442.36 L117.65,441.01 L119.06,439.67 L120.47,438.35 L121.88,437.05 L123.29,435.77 L124.71,434.51 L126.12,433.27 L127.53,432.05 L128.94,430.85 L130.36,429.68 L131.77,428.53 L133.18,427.4 L134.59,426.3 L136,425.23 L137.42,424.18 L138.83,423.15 L140.24,422.16 L141.65,421.19 L143.06,420.25 L144.48,419.34 L145.89,418.46 L147.3,417.62 L148.71,416.8 L150.12,416.02 L151.54,415.27 L152.95,414.55 L154.36,413.86 L155.77,413.22 L157.19,412.6" fill="none" stroke="#f55454" stroke-width="1.25" stroke-linejoin="round" stroke-linecap="round"/>
<path d="M42.3,517.3 L43.67,516.06 L45.04,514.79 L46.41,513.51 L47.78,512.21 L49.15,510.89 L50.52,509.56 L51.89,508.21 L53.26,506.84 L54.63,505.46 L56,504.06 L57.37,502.65 L58.74,501.23 L60.11,499.79 L61.48,498.35 L62.85,496.89 L64.22,495.43 L65.59,493.95 L66.96,492.47 L68.33,490.98 L69.7,489.48 L71.07,487.98 L72.44,486.47 L73.81,484.95 L75.18,483.44 L76.55,481.91 L77.92,480.39 L79.29,478.87 L80.66,477.34 L82.03,475.81 L83.4,474.29 L84.77,472.76 L86.14,471.24 L87.51,469.72 L88.88,468.2 L90.25,466.69 L91.62,465.19 L92.99,463.68 L94.36,462.19 L95.73,460.7 L97.1,459.22 L98.47,457.75 L99.84,456.28 L101.21,454.83 L102.58,453.39 L103.95,451.96 L105.32,450.54 L106.69,449.14 L108.06,447.75 L109.43,446.37 L110.8,445.01 L112.17,443.66 L113.54,442.33 L114.91,441.02 L116.28,439.73 L117.65,438.45 L119.02,437.2 L120.39,435.96 L121.76,434.75 L123.13,433.56 L124.5,432.39 L125.87,431.24 L127.24,430.12 L128.61,429.02 L129.98,427.95 L131.35,426.9 L132.72,425.88 L134.09,424.89 L135.46,423.93 L136.83,422.99 L138.2,422.09 L139.57,421.21 L140.94,420.37 L142.31,419.56 L143.68,418.78 L145.05,418.04 L146.42,417.33 L147.79,416.65 L149.16,416.02 L150.52,415.41" fill="none" stroke="#b993d4" stroke-width="1.25" stroke-linejoin="round" stroke-linecap="round"/>
<path d="M42.3,517.3 L43.61,515.85 L44.93,514.4 L46.24,512.95 L47.55,511.5 L48.87,510.04 L50.18,508.58 L51.5,507.12 L52.81,505.66 L54.12,504.2 L55.44,502.74 L56.75,501.28 L58.06,499.82 L59.38,498.37 L60.69,496.91 L62.01,495.46 L63.32,494.01 L64.63,492.56 L65.95,491.11 L67.26,489.67 L68.57,488.23 L69.89,486.8 L71.2,485.37 L72.52,483.95 L73.83,482.53 L75.14,481.12 L76.46,479.71 L77.77,478.31 L79.08,476.92 L80.4,475.54 L81.71,474.16 L83.03,472.79 L84.34,471.43 L85.65,470.08 L86.97,468.73 L88.28,467.4 L89.59,466.08 L90.91,464.77 L92.22,463.47 L93.54,462.17 L94.85,460.9 L96.16,459.63 L97.48,458.37 L98.79,457.13 L100.1,455.9 L101.42,454.69 L102.73,453.49 L104.05,452.3 L105.36,451.13 L106.67,449.97 L107.99,448.83 L109.3,447.7 L110.61,446.59 L111.93,445.49 L113.24,444.42 L114.56,443.36 L115.87,442.31 L117.18,441.29 L118.5,440.28 L119.81,439.29 L121.12,438.33 L122.44,437.38 L123.75,436.45 L125.07,435.54 L126.38,434.65 L127.69,433.78 L129.01,432.94 L130.32,432.12 L131.63,431.31 L132.95,430.53 L134.26,429.78 L135.58,429.05 L136.89,428.34 L138.2,427.65 L139.52,426.99 L140.83,426.35 L142.14,425.74 L143.46,425.16 L144.77,424.6 L146.08,424.07" fill="none" stroke="#38b684" stroke-width="1.25" stroke-linejoin="round" stroke-linecap="round"/>
<path d="M43.41,517.3 L44.4,516.27 L45.38,515.24 L46.37,514.21 L47.36,513.18 L48.35,512.15 L49.33,511.12 L50.32,510.09 L51.31,509.06 L52.29,508.03 L53.28,507 L54.27,505.97 L55.25,504.94 L56.24,503.91 L57.23,502.88 L58.22,501.86 L59.2,500.83 L60.19,499.8 L61.18,498.77 L62.16,497.74 L63.15,496.72 L64.14,495.69 L65.13,494.66 L66.11,493.63 L67.1,492.61 L68.09,491.58 L69.07,490.55 L70.06,489.52 L71.05,488.5 L72.03,487.47 L73.02,486.44 L74.01,485.42 L75,484.39 L75.98,483.36 L76.97,482.33 L77.96,481.31 L78.94,480.28 L79.93,479.25 L80.92,478.23 L81.91,477.2 L82.89,476.17 L83.88,475.14 L84.87,474.12 L85.85,473.09 L86.84,472.06 L87.83,471.03 L88.81,470 L89.8,468.98 L90.79,467.95 L91.78,466.92 L92.76,465.89 L93.75,464.86 L94.74,463.83 L95.72,462.8 L96.71,461.77 L97.7,460.74 L98.69,459.71 L99.67,458.68 L100.66,457.65 L101.65,456.62 L102.63,455.59 L103.62,454.56 L104.61,453.53 L105.59,452.5 L106.58,451.46 L107.57,450.43 L108.56,449.4 L109.54,448.37 L110.53,447.33 L111.52,446.3 L112.5,445.26 L113.49,444.23 L114.48,443.2 L115.47,442.16 L116.45,441.12 L117.44,440.09 L118.43,439.05 L119.41,438.02 L120.4,436.98 L121.39,435.94" fill="none" stroke="#2f78c8" stroke-width="1.25" stroke-linejoin="round" stroke-linecap="round"/>
<path d="M42.3,517.3 L43.2,516.14 L44.1,514.99 L45,513.83 L45.9,512.68 L46.8,511.53 L47.7,510.38 L48.59,509.23 L49.49,508.08 L50.39,506.94 L51.29,505.8 L52.19,504.66 L53.09,503.52 L53.99,502.39 L54.89,501.26 L55.79,500.13 L56.69,499.01 L57.59,497.89 L58.49,496.77 L59.39,495.66 L60.28,494.55 L61.18,493.44 L62.08,492.34 L62.98,491.24 L63.88,490.15 L64.78,489.06 L65.68,487.97 L66.58,486.9 L67.48,485.82 L68.38,484.75 L69.28,483.69 L70.18,482.63 L71.08,481.58 L71.97,480.53 L72.87,479.49 L73.77,478.45 L74.67,477.42 L75.57,476.4 L76.47,475.38 L77.37,474.37 L78.27,473.37 L79.17,472.37 L80.07,471.38 L80.97,470.4 L81.87,469.42 L82.77,468.46 L83.67,467.5 L84.56,466.54 L85.46,465.6 L86.36,464.66 L87.26,463.73 L88.16,462.81 L89.06,461.9 L89.96,461 L90.86,460.1 L91.76,459.22 L92.66,458.34 L93.56,457.47 L94.46,456.61 L95.36,455.76 L96.25,454.92 L97.15,454.09 L98.05,453.27 L98.95,452.46 L99.85,451.66 L100.75,450.87 L101.65,450.09 L102.55,449.33 L103.45,448.57 L104.35,447.82 L105.25,447.08 L106.15,446.36 L107.05,445.65 L107.94,444.94 L108.84,444.25 L109.74,443.57 L110.64,442.91 L111.54,442.25 L112.44,441.61 L113.34,440.98" fill="none" stroke="#e3aa3c" stroke-width="1.25" stroke-linejoin="round" stroke-linecap="round"/>
<path d="M42.3,517.3 L43.31,516.15 L44.32,515 L45.33,513.86 L46.35,512.71 L47.36,511.56 L48.37,510.42 L49.38,509.27 L50.39,508.13 L51.4,506.98 L52.42,505.84 L53.43,504.69 L54.44,503.55 L55.45,502.41 L56.46,501.27 L57.47,500.13 L58.49,498.99 L59.5,497.86 L60.51,496.72 L61.52,495.59 L62.53,494.46 L63.54,493.33 L64.56,492.2 L65.57,491.07 L66.58,489.95 L67.59,488.82 L68.6,487.7 L69.61,486.58 L70.63,485.46 L71.64,484.35 L72.65,483.23 L73.66,482.12 L74.67,481.02 L75.68,479.91 L76.7,478.81 L77.71,477.71 L78.72,476.61 L79.73,475.51 L80.74,474.42 L81.75,473.33 L82.77,472.25 L83.78,471.16 L84.79,470.08 L85.8,469.01 L86.81,467.93 L87.82,466.86 L88.84,465.8 L89.85,464.73 L90.86,463.68 L91.87,462.62 L92.88,461.57 L93.89,460.52 L94.91,459.48 L95.92,458.44 L96.93,457.4 L97.94,456.37 L98.95,455.34 L99.96,454.32 L100.98,453.3 L101.99,452.29 L103,451.28 L104.01,450.27 L105.02,449.27 L106.03,448.28 L107.05,447.29 L108.06,446.3 L109.07,445.32 L110.08,444.34 L111.09,443.37 L112.1,442.41 L113.12,441.45 L114.13,440.49 L115.14,439.54 L116.15,438.6 L117.16,437.66 L118.17,436.73 L119.19,435.8 L120.2,434.88 L121.21,433.97 L122.22,433.06" fill="none" stroke="#36c6c8" stroke-width="1.25" stroke-linejoin="round" stroke-linecap="round"/>
<rect x="42.3" y="382.7" width="166.7" height="134.6" fill="none" stroke="#1a1a1a" stroke-width="1.1"/>
<line x1="42.3" y1="517.3" x2="39.8" y2="517.3" stroke="#1a1a1a" stroke-width="1.1"/>
<text x="37.7" y="520.79" font-size="9.7" text-anchor="end" >0</text>
<line x1="42.3" y1="508.3" x2="40.8" y2="508.3" stroke="#1a1a1a" stroke-width="1.1"/>
<line x1="42.3" y1="499.3" x2="39.8" y2="499.3" stroke="#1a1a1a" stroke-width="1.1"/>
<text x="37.7" y="502.79" font-size="9.7" text-anchor="end" >50</text>
<line x1="42.3" y1="490.3" x2="40.8" y2="490.3" stroke="#1a1a1a" stroke-width="1.1"/>
<line x1="42.3" y1="481.3" x2="39.8" y2="481.3" stroke="#1a1a1a" stroke-width="1.1"/>
<text x="37.7" y="484.79" font-size="9.7" text-anchor="end" >100</text>
<line x1="42.3" y1="472.3" x2="40.8" y2="472.3" stroke="#1a1a1a" stroke-width="1.1"/>
<line x1="42.3" y1="463.3" x2="39.8" y2="463.3" stroke="#1a1a1a" stroke-width="1.1"/>
<text x="37.7" y="466.79" font-size="9.7" text-anchor="end" >150</text>
<line x1="42.3" y1="454.3" x2="40.8" y2="454.3" stroke="#1a1a1a" stroke-width="1.1"/>
<line x1="42.3" y1="445.3" x2="39.8" y2="445.3" stroke="#1a1a1a" stroke-width="1.1"/>
<text x="37.7" y="448.79" font-size="9.7" text-anchor="end" >200</text>
<line x1="42.3" y1="436.3" x2="40.8" y2="436.3" stroke="#1a1a1a" stroke-width="1.1"/>
<line x1="42.3" y1="427.3" x2="39.8" y2="427.3" stroke="#1a1a1a" stroke-width="1.1"/>
<text x="37.7" y="430.79" font-size="9.7" text-anchor="end" >250</text>
<line x1="42.3" y1="418.3" x2="40.8" y2="418.3" stroke="#1a1a1a" stroke-width="1.1"/>
<line x1="42.3" y1="409.3" x2="39.8" y2="409.3" stroke="#1a1a1a" stroke-width="1.1"/>
<text x="37.7" y="412.79" font-size="9.7" text-anchor="end" >300</text>
<line x1="42.3" y1="400.3" x2="40.8" y2="400.3" stroke="#1a1a1a" stroke-width="1.1"/>
<line x1="42.3" y1="391.3" x2="39.8" y2="391.3" stroke="#1a1a1a" stroke-width="1.1"/>
<text x="37.7" y="394.79" font-size="9.7" text-anchor="end" >350</text>
<line x1="42.3" y1="517.3" x2="42.3" y2="519.8" stroke="#1a1a1a" stroke-width="1.1"/>
<text x="42.3" y="529.7" font-size="9.7" text-anchor="middle" >0</text>
<line x1="56.17" y1="517.3" x2="56.17" y2="518.8" stroke="#1a1a1a" stroke-width="1.1"/>
<line x1="70.05" y1="517.3" x2="70.05" y2="519.8" stroke="#1a1a1a" stroke-width="1.1"/>
<text x="70.05" y="529.7" font-size="9.7" text-anchor="middle" >5</text>
<line x1="83.92" y1="517.3" x2="83.92" y2="518.8" stroke="#1a1a1a" stroke-width="1.1"/>
<line x1="97.8" y1="517.3" x2="97.8" y2="519.8" stroke="#1a1a1a" stroke-width="1.1"/>
<text x="97.8" y="529.7" font-size="9.7" text-anchor="middle" >10</text>
<line x1="111.67" y1="517.3" x2="111.67" y2="518.8" stroke="#1a1a1a" stroke-width="1.1"/>
<line x1="125.55" y1="517.3" x2="125.55" y2="519.8" stroke="#1a1a1a" stroke-width="1.1"/>
<text x="125.55" y="529.7" font-size="9.7" text-anchor="middle" >15</text>
<line x1="139.43" y1="517.3" x2="139.43" y2="518.8" stroke="#1a1a1a" stroke-width="1.1"/>
<line x1="153.3" y1="517.3" x2="153.3" y2="519.8" stroke="#1a1a1a" stroke-width="1.1"/>
<text x="153.3" y="529.7" font-size="9.7" text-anchor="middle" >20</text>
<line x1="167.18" y1="517.3" x2="167.18" y2="518.8" stroke="#1a1a1a" stroke-width="1.1"/>
<line x1="181.05" y1="517.3" x2="181.05" y2="519.8" stroke="#1a1a1a" stroke-width="1.1"/>
<text x="181.05" y="529.7" font-size="9.7" text-anchor="middle" >25</text>
<line x1="194.93" y1="517.3" x2="194.93" y2="518.8" stroke="#1a1a1a" stroke-width="1.1"/>
<line x1="208.8" y1="517.3" x2="208.8" y2="519.8" stroke="#1a1a1a" stroke-width="1.1"/>
<text x="208.8" y="529.7" font-size="9.7" text-anchor="middle" >30</text>
<line x1="51.1" y1="392.7" x2="65.7" y2="392.7" stroke="#555555" stroke-width="1.2"/>
<text x="67.3" y="394.91" font-size="6.5" text-anchor="start" font-weight="bold" >A0</text>
<line x1="51.1" y1="400.55" x2="65.7" y2="400.55" stroke="#f55454" stroke-width="1.45"/>
<text x="67.3" y="402.76" font-size="6.5" text-anchor="start" font-weight="bold" >C1</text>
<line x1="51.1" y1="408.4" x2="65.7" y2="408.4" stroke="#b993d4" stroke-width="1.45"/>
<text x="67.3" y="410.61" font-size="6.5" text-anchor="start" font-weight="bold" >C2</text>
<line x1="51.1" y1="416.25" x2="65.7" y2="416.25" stroke="#38b684" stroke-width="1.45"/>
<text x="67.3" y="418.46" font-size="6.5" text-anchor="start" font-weight="bold" >C3</text>
<line x1="51.1" y1="424.1" x2="65.7" y2="424.1" stroke="#2f78c8" stroke-width="1.45"/>
<text x="67.3" y="426.31" font-size="6.5" text-anchor="start" font-weight="bold" >C4</text>
<line x1="51.1" y1="431.95" x2="65.7" y2="431.95" stroke="#e3aa3c" stroke-width="1.45"/>
<text x="67.3" y="434.16" font-size="6.5" text-anchor="start" font-weight="bold" >C5</text>
<line x1="51.1" y1="439.8" x2="65.7" y2="439.8" stroke="#36c6c8" stroke-width="1.45"/>
<text x="67.3" y="442.01" font-size="6.5" text-anchor="start" font-weight="bold" >C6</text>
<text x="50.8" y="455.7" font-size="11" text-anchor="start" font-weight="bold" >Blue</text>
<text x="0" y="0" font-size="12.5" font-weight="bold" text-anchor="middle" transform="translate(17,453.7) rotate(-90)">Shearing force (N)</text>
<text x="125.4" y="541.5" font-size="11.4" text-anchor="middle" font-weight="bold" >Displacement (mm)</text>
<text x="2.6" y="389.6" font-size="17" text-anchor="start" >(e)</text>
<rect x="264.35" y="394.1" width="19.2" height="122.9" fill="#fec594"/>
<rect x="288.1" y="412.56" width="19.2" height="104.44" fill="#fec594"/>
<rect x="311.85" y="415.24" width="19.2" height="101.76" fill="#fec594"/>
<rect x="335.6" y="424.02" width="19.2" height="92.98" fill="#fec594"/>
<rect x="359.35" y="424.02" width="19.2" height="92.98" fill="#fec594"/>
<rect x="383.1" y="439.79" width="19.2" height="77.21" fill="#fec594"/>
<rect x="406.85" y="466.48" width="19.2" height="50.52" fill="#fec594"/>
<text x="273.95" y="528.7" font-size="9.5" text-anchor="middle" >A0</text>
<text x="297.7" y="528.7" font-size="9.5" text-anchor="middle" >C1</text>
<text x="321.45" y="528.7" font-size="9.5" text-anchor="middle" >C2</text>
<text x="345.2" y="528.7" font-size="9.5" text-anchor="middle" >C3</text>
<text x="368.95" y="528.7" font-size="9.5" text-anchor="middle" >C4</text>
<text x="392.7" y="528.7" font-size="9.5" text-anchor="middle" >C5</text>
<text x="416.45" y="528.7" font-size="9.5" text-anchor="middle" >C6</text>
<rect x="262.1" y="382.6" width="165.9" height="134.4" fill="none" stroke="#1a1a1a" stroke-width="1.1"/>
<line x1="262.1" y1="517" x2="264.6" y2="517" stroke="#1a1a1a" stroke-width="1.1"/>
<text x="258.9" y="520.49" font-size="9.7" text-anchor="end" >0</text>
<line x1="262.1" y1="508.04" x2="263.6" y2="508.04" stroke="#1a1a1a" stroke-width="1.1"/>
<line x1="262.1" y1="499.08" x2="264.6" y2="499.08" stroke="#1a1a1a" stroke-width="1.1"/>
<text x="258.9" y="502.58" font-size="9.7" text-anchor="end" >50</text>
<line x1="262.1" y1="490.13" x2="263.6" y2="490.13" stroke="#1a1a1a" stroke-width="1.1"/>
<line x1="262.1" y1="481.17" x2="264.6" y2="481.17" stroke="#1a1a1a" stroke-width="1.1"/>
<text x="258.9" y="484.66" font-size="9.7" text-anchor="end" >100</text>
<line x1="262.1" y1="472.21" x2="263.6" y2="472.21" stroke="#1a1a1a" stroke-width="1.1"/>
<line x1="262.1" y1="463.25" x2="264.6" y2="463.25" stroke="#1a1a1a" stroke-width="1.1"/>
<text x="258.9" y="466.75" font-size="9.7" text-anchor="end" >150</text>
<line x1="262.1" y1="454.3" x2="263.6" y2="454.3" stroke="#1a1a1a" stroke-width="1.1"/>
<line x1="262.1" y1="445.34" x2="264.6" y2="445.34" stroke="#1a1a1a" stroke-width="1.1"/>
<text x="258.9" y="448.83" font-size="9.7" text-anchor="end" >200</text>
<line x1="262.1" y1="436.38" x2="263.6" y2="436.38" stroke="#1a1a1a" stroke-width="1.1"/>
<line x1="262.1" y1="427.43" x2="264.6" y2="427.43" stroke="#1a1a1a" stroke-width="1.1"/>
<text x="258.9" y="430.92" font-size="9.7" text-anchor="end" >250</text>
<line x1="262.1" y1="418.47" x2="263.6" y2="418.47" stroke="#1a1a1a" stroke-width="1.1"/>
<line x1="262.1" y1="409.51" x2="264.6" y2="409.51" stroke="#1a1a1a" stroke-width="1.1"/>
<text x="258.9" y="413" font-size="9.7" text-anchor="end" >300</text>
<line x1="262.1" y1="400.55" x2="263.6" y2="400.55" stroke="#1a1a1a" stroke-width="1.1"/>
<line x1="262.1" y1="391.6" x2="264.6" y2="391.6" stroke="#1a1a1a" stroke-width="1.1"/>
<text x="258.9" y="395.09" font-size="9.7" text-anchor="end" >350</text>
<text x="0" y="0" font-size="11.4" font-weight="bold" text-anchor="middle" transform="translate(239.3,450.2) rotate(-90)">Shearing Force&#160;&#160;(F)</text>
<text x="345.1" y="545.5" font-size="11.4" text-anchor="middle" font-weight="bold" >Solvent Blue 104</text>
<text x="224.5" y="387.8" font-size="17" text-anchor="start" >(f)</text>
</svg>
</body></html>
